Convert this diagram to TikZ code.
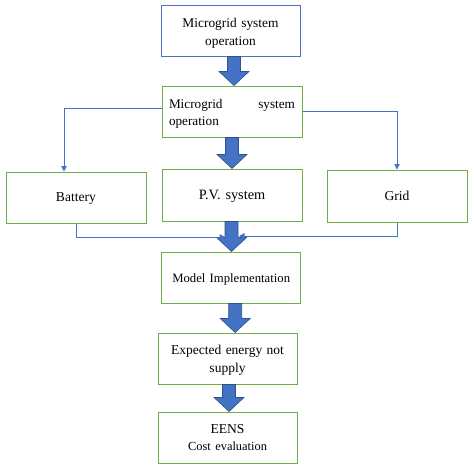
\documentclass[tikz,border=0pt]{standalone}
\usepackage{fontspec}
\setmainfont{Liberation Serif}
\usetikzlibrary{arrows.meta,calc}
\definecolor{boxblue}{HTML}{4472C4}
\definecolor{boxgreen}{HTML}{70AD47}
\definecolor{arrowfill}{HTML}{4472C4}
\definecolor{arrowline}{HTML}{2F528F}
\newcommand\fs[2]{\fontsize{#1}{#2}\selectfont}
\begin{document}
\begin{tikzpicture}[x=1pt,y=-1pt,
  base/.style={draw, line width=1pt, fill=white, inner sep=0pt},
  bluebox/.style={base, draw=boxblue, minimum width=139pt, minimum height=51pt},
  greenbox/.style={base, draw=boxgreen, minimum width=140pt, minimum height=51pt},
  boxtext/.style={anchor=base, inner sep=0pt, text width=130pt, align=center, yshift=#1},
  thinarrow/.style={draw=boxblue, line width=0.8pt, -{Triangle[width=5.5pt,length=5.5pt]}},
  bigarrow/.style={fill=arrowfill, draw=arrowline, line width=0.6pt, line join=miter}
]
\useasboundingbox (0,0) rectangle (474,469);

% boxes
\node[bluebox] (b1) at (230.5,30.5) {};
\node[greenbox] (b2) at (232,111.5) {};
\node[greenbox] (bat) at (76,197.5) {};
\node[greenbox, minimum height=52pt] (pv) at (232,195) {};
\node[greenbox, minimum height=52pt] (grid) at (397,196) {};
\node[greenbox, minimum width=139pt] (model) at (231.2,277.5) {};
\node[greenbox, minimum width=139pt] (exp) at (227.5,358.5) {};
\node[greenbox, minimum width=139pt] (eens) at (227.5,437.5) {};

% box texts (first baseline placed from box centre)
\node[boxtext=3.5pt, font=\fs{13.4}{18}] (b1t) at (b1.center) {Microgrid system\\operation};
\node[boxtext=3.5pt, text width=126pt, align=left, font=\fs{13.2}{17}] (b2t) at (b2.center) {Microgrid\hfill system\\operation};
\node[boxtext=-3.5pt, font=\fs{13.6}{17}] (batt) at (bat.center) {Battery};
\node[boxtext=-4.5pt, font=\fs{14.3}{17}] (pvt) at (pv.center) {P.V. system};
\node[boxtext=-4pt, font=\fs{13.6}{17}] (gridt) at (grid.center) {Grid};
\node[boxtext=-5pt, font=\fs{12.7}{17}] (modelt) at (model.center) {Model Implementation};
\node[boxtext=4.5pt, font=\fs{13.5}{18}] (expt) at (exp.center) {Expected energy not\\supply};
\node[boxtext=4.5pt, font=\fs{13.6}{17}] (eenst) at (eens.center) {EENS\\{\fs{12.4}{17}Cost evaluation}};

% big block arrows
\newcommand\blockarrow[3]{%
  \draw[bigarrow] let \p1=(#1.south), \p2=(#2.north) in
    (\x1+#3-6.5pt,\y1) -- (\x1+#3+6.5pt,\y1) -- (\x1+#3+6.5pt,\y2+14pt) -- (\x1+#3+15pt,\y2+14pt)
    -- (\x1+#3,\y2) -- (\x1+#3-15pt,\y2+14pt) -- (\x1+#3-6.5pt,\y2+14pt) -- cycle;}
\blockarrow{b1}{b2}{3.5pt}
\blockarrow{b2}{pv}{0pt}
\blockarrow{pv}{model}{-0.5pt}
\blockarrow{model}{exp}{4pt}
\blockarrow{exp}{eens}{1.5pt}

% thin connectors
\coordinate (j1) at (225,237);
\coordinate (j2) at (239,236);
\draw[thinarrow] ([yshift=3.5pt]b2.west) -| ([xshift=-12pt]bat.north);
\draw[thinarrow] (b2.east) -| (grid.north);
\draw[thinarrow] (bat.south) |- (j1);
\draw[thinarrow] (grid.south) |- (j2);
\end{tikzpicture}
\end{document}
